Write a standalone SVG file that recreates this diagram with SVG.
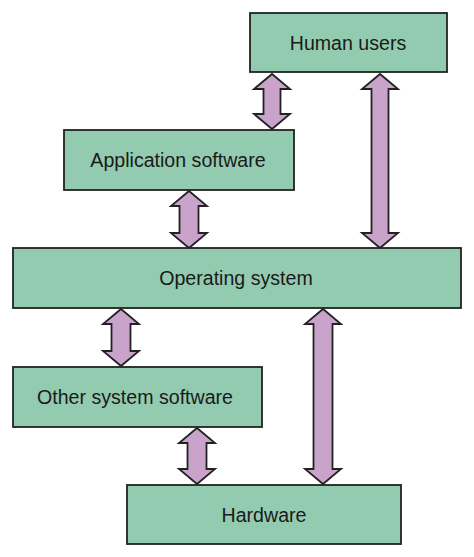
<svg xmlns="http://www.w3.org/2000/svg" width="474" height="557" viewBox="0 0 474 557">
<style>
.box{fill:#93cbb0;stroke:#222;stroke-width:1.8}
.lbl{font-family:"Liberation Sans",Arial,sans-serif;font-size:19.6px;fill:#1a1a1a;text-anchor:middle;dominant-baseline:central}
.arr{fill:#c9a3c9;stroke:#222;stroke-width:1.8;stroke-linejoin:miter}
</style>
<rect width="474" height="557" fill="#fff"/>
<g id="connectors">
<polygon class="arr" points="272,74 290,89 280.5,89 280.5,114 290,114 272,129 254,114 263.5,114 263.5,89 254,89"/>
<polygon class="arr" points="380,74 398,89 388.5,89 388.5,233 398,233 380,248 362,233 371.5,233 371.5,89 362,89"/>
<polygon class="arr" points="189,191 207,206 198.5,206 198.5,233 207,233 189,248 171,233 179.5,233 179.5,206 171,206"/>
<polygon class="arr" points="121,309 139,324 130.5,324 130.5,351 139,351 121,366 103,351 111.5,351 111.5,324 103,324"/>
<polygon class="arr" points="197,428 215,443 206.5,443 206.5,469 215,469 197,484 179,469 187.5,469 187.5,443 179,443"/>
<polygon class="arr" points="323,309 341,324 332.5,324 332.5,469 341,469 323,484 305,469 313.5,469 313.5,324 305,324"/>
</g>
<g id="human-users">
<rect class="box" x="250" y="13" width="197" height="59"/>
<text class="lbl" x="348" y="43">Human users</text>
</g>
<g id="application-software">
<rect class="box" x="64" y="130" width="230" height="60"/>
<text class="lbl" x="178" y="160">Application software</text>
</g>
<g id="operating-system">
<rect class="box" x="13" y="248" width="448" height="60"/>
<text class="lbl" x="236" y="278">Operating system</text>
</g>
<g id="other-system-software">
<rect class="box" x="13" y="367" width="249" height="60"/>
<text class="lbl" x="135" y="397">Other system software</text>
</g>
<g id="hardware">
<rect class="box" x="127" y="485" width="274" height="59"/>
<text class="lbl" x="264" y="515">Hardware</text>
</g>
</svg>
